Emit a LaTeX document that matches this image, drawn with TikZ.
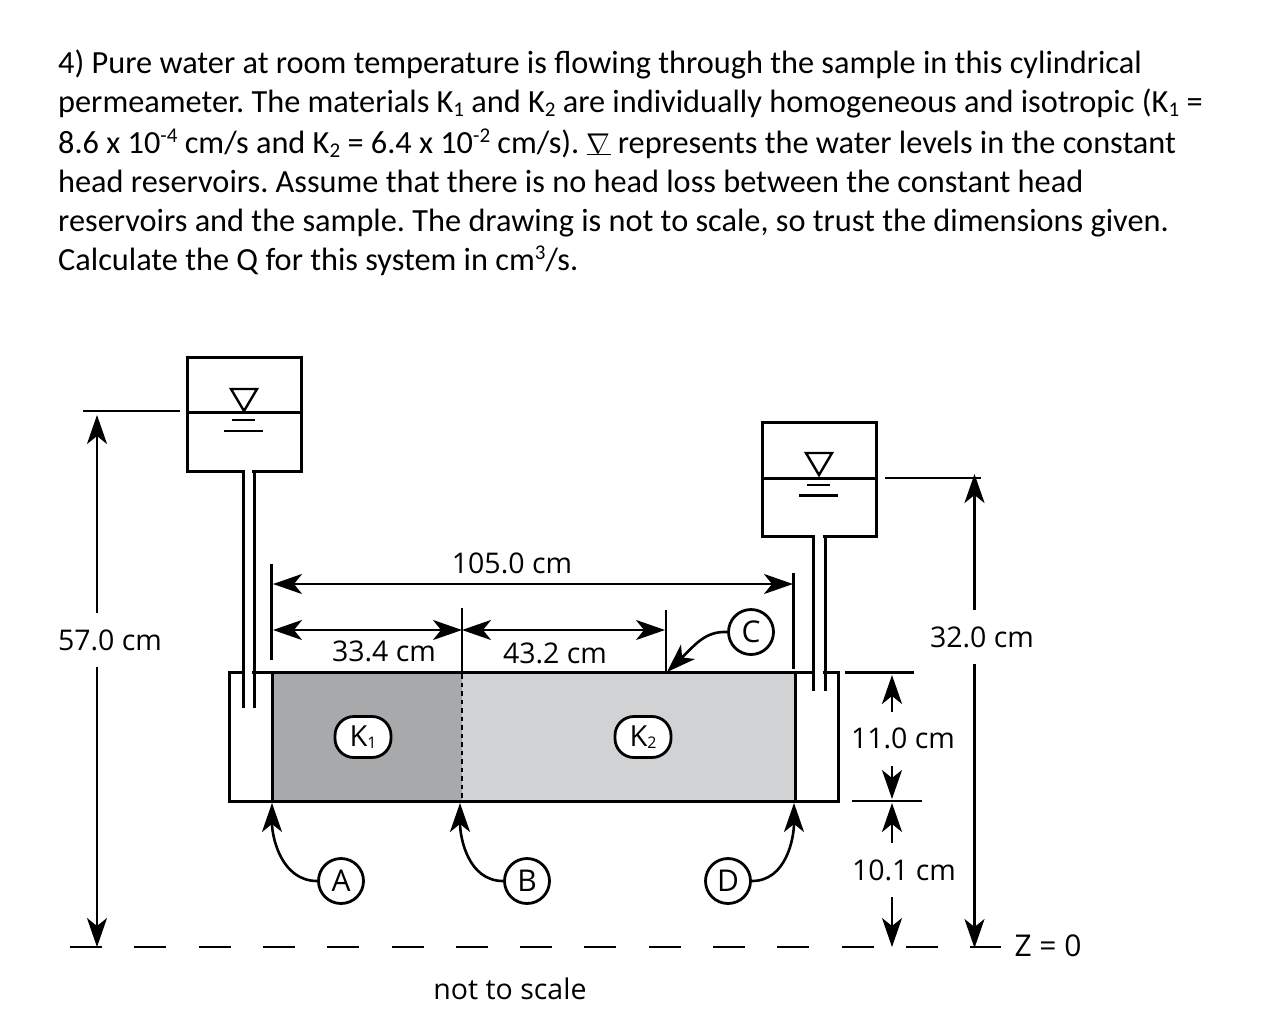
\documentclass[tikz,border=0pt]{standalone}
\usepackage{fontspec}
\setmainfont{Carlito}
\newfontfamily\labelfont{Open Sans}
\usetikzlibrary{arrows.meta, positioning}

\definecolor{soilone}{HTML}{A7A9AB}
\definecolor{soiltwo}{HTML}{D0D2D3}

\newcommand{\lowidx}[1]{\raisebox{-0.15ex}{\fontsize{16}{18}\selectfont #1}}
\newcommand{\txsub}[1]{\raisebox{-4pt}{\fontsize{21}{23}\selectfont #1}}
\newcommand{\txsup}[1]{\raisebox{11pt}{\fontsize{21}{23}\selectfont #1}}

\begin{document}
\begin{tikzpicture}[x=1pt, y=-1pt]

\tikzset{
  line/.style={text=black, anchor=base west, font=\fontsize{32.3}{38}\selectfont\frenchspacing, inner sep=0pt},
  tank/.style={rectangle, draw, line width=3pt, minimum width=114pt, minimum height=114pt, inner sep=0pt},
  callout/.style={circle, draw, line width=2.8pt, minimum size=45pt, inner sep=0pt, font=\labelfont\fontsize{30}{34}\selectfont},
  soilpill/.style={rectangle, rounded corners=19pt, draw, fill=white, line width=2.8pt, minimum width=56pt, minimum height=41pt, inner sep=0pt, font=\labelfont\fontsize{29}{34}\selectfont},
  dimlabel/.style={inner sep=0pt, minimum height=54pt, font=\labelfont\fontsize{28.5}{32}\selectfont},
  freelabel/.style={inner sep=0pt, font=\labelfont\fontsize{28.5}{32}\selectfont},
  dim/.style={<->, line width=2.6pt},
  dimhalf/.style={->, line width=2.6pt},
  tick/.style={line width=2.6pt},
  wall/.style={line width=3pt},
  >={Stealth[length=29pt, width=20pt, inset=8pt]}
}

\fill[white] (0,0) rectangle (1266,1010);

% --- Aufgabentext ---
\node[line] (l1) at (58,73) {4) Pure water at room temperature is flowing through the sample in this cylindrical};
\node[line] (l2) at (58,112) {permeameter. The materials K\txsub{1} and K\txsub{2} are individually homogeneous and isotropic (K\txsub{1} =};
\node[line] (l3) at (58,153) {8.6 x 10\txsup{-4} cm/s and K\txsub{2} = 6.4 x 10\txsup{-2} cm/s). \scalebox{1.15}{$\underline{\nabla}$} represents the water levels in the constant};
\node[line] (l4) at (58,192) {head reservoirs. Assume that there is no head loss between the constant head};
\node[line] (l5) at (58,231) {reservoirs and the sample. The drawing is not to scale, so trust the dimensions given.};
\node[line] (l6) at (58,270) {Calculate the Q for this system in cm\txsup{3}/s.};

% --- Probe ---
\fill[soilone] (272,672) rectangle (462,801);
\fill[soiltwo] (462,672) rectangle (794,801);
\draw[wall] (229,672.5) rectangle (838,801);
\draw[wall] (272,672.5) -- (272,801);
\draw[wall] (795,672.5) -- (795,801);
\draw[line width=2.6pt, dash pattern=on 4.5pt off 4pt] (462,674) -- (462,801);

% --- Behaelter ---
\node[tank] (tankL) at (244,414.5) {};
\node[tank] (tankR) at (819,479.5) {};
\draw[wall] (tankL.west |- 0,412) -- (tankL.east |- 0,412);
\draw[wall] (tankR.west |- 0,478) -- (tankR.east |- 0,478);

% --- Wasserstand ---
\draw[line width=2.4pt, line join=miter] (231,389) -- (257,389) -- (244,411) -- cycle;
\draw[line width=2.4pt] (232,420) -- (255,420) (224,431) -- (263,431);
\draw[line width=2.4pt, line join=miter] (806,453) -- (832,453) -- (819,475) -- cycle;
\draw[line width=2.4pt] (807,485) -- (830,485) (799,495.5) -- (838,495.5);

% --- Rohre ---
\fill[white] (245,466) rectangle (252,476);
\fill[white] (245,668) rectangle (252,676);
\fill[white] (815,532) rectangle (823,542);
\fill[white] (815,668) rectangle (823,676);
\draw[wall] (243,471) -- (243,708) (254.5,471) -- (254.5,708);
\draw[wall] (813.5,536) -- (813.5,691) (825,536) -- (825,691);

% --- Hilfslinien ---
\coordinate (levelL) at (97,415);
\coordinate (levelR) at (974.5,474);
\coordinate (top) at (892,675);
\coordinate (midU) at (892,799);
\coordinate (midL) at (892,803);
\coordinate (zeroU) at (892,947);
\coordinate (zeroL) at (97,947);
\coordinate (zeroR) at (974.5,948);
\draw[tick] (83,411) -- (180,411);
\draw[tick] (885,478) -- (981,478);
\draw[tick] (845,672.5) -- (914,672.5);
\draw[tick] (852,801) -- (922,801);
\draw[tick] (271.5,564) -- (271.5,660);
\draw[tick] (793.5,573) -- (793.5,669);
\draw[tick] (462,608) -- (462,674);
\draw[tick] (666,610) -- (666,672);
\draw[line width=2.8pt, dash pattern=on 32pt off 32.3pt] (70,947) -- (1001,947);

% --- Bemassung ---
\coordinate (a1) at (273,584);
\coordinate (a2) at (793,584);
\coordinate (b1) at (273,630);
\coordinate (b2) at (462,630);
\coordinate (b3) at (665,630);
\draw[dim] (a1) -- (a2);
\draw[dim] (b1) -- (b2);
\draw[dim] (b2) -- (b3);

\node[freelabel] (lab105) at (512,563) {105.0 cm};
\node[freelabel] (lab334) at (384,651) {33.4 cm};
\node[freelabel] (lab432) at (555,653) {43.2 cm};

\node[dimlabel] (lab57) at (110,640) {57.0 cm};
\node[dimlabel] (lab32) at (982,637) {\raisebox{-2pt}{32.0 cm}};
\node[dimlabel] (lab11) at (903,739) {\raisebox{2pt}{11.0 cm}};
\node[dimlabel] (lab10) at (904,870) {10.1 cm};

\draw[dimhalf] (lab57.north -| levelL) -- (levelL);
\draw[dimhalf] (lab57.south -| levelL) -- (zeroL);
\draw[dimhalf] (lab32.north -| levelR) -- (levelR);
\draw[dimhalf] (lab32.south -| levelR) -- (zeroR);
\draw[dimhalf] (lab11.north -| top) -- (top);
\draw[dimhalf] (lab11.south -| top) -- (midU);
\draw[dimhalf] (lab10.north -| top) -- (midL);
\draw[dimhalf] (lab10.south -| top) -- (zeroU);

% --- Markierungen ---
\node[soilpill] (k1) at (363,737) {K\lowidx{1}};
\node[soilpill] (k2) at (643,737) {K\lowidx{2}};
\node[callout] (markA) at (341,881) {A};
\node[callout] (markB) at (527,881) {B};
\node[callout] (markC) at (751,632) {C};
\node[callout] (markD) at (728,881) {D};

\coordinate (ptA) at (272,803);
\coordinate (ptB) at (460,803);
\coordinate (ptC) at (667,672);
\coordinate (ptD) at (794,803);
\draw[dimhalf] (markA.west) to[out=180, in=-90] (ptA);
\draw[dimhalf] (markB.west) to[out=180, in=-90] (ptB);
\draw[dimhalf] (markC.west) .. controls (705,631) and (695,645) .. (ptC);
\draw[dimhalf] (markD.east) to[out=0, in=-90] (ptD);

% --- Beschriftungen ---
\node[inner sep=0pt, font=\labelfont\fontsize{30}{34}\selectfont] (zlab) at (1048,946) {Z = 0};
\node[freelabel] (scale) at (510,989) {not to scale};

\end{tikzpicture}
\end{document}
